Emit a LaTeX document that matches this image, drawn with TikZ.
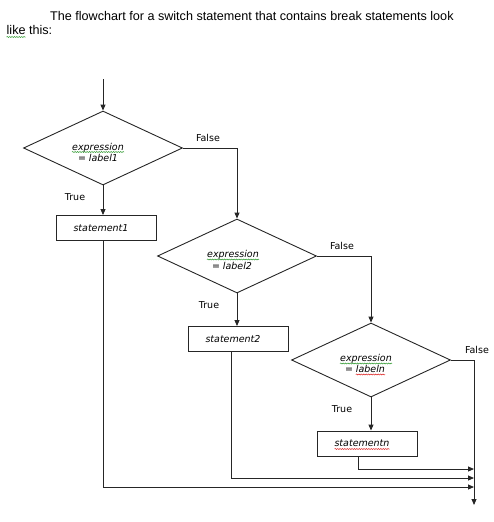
\documentclass[tikz,border=0pt]{standalone}
\usepackage{fontspec}
\setmainfont{Liberation Sans}
\newfontfamily\dejavu{DejaVu Sans}
\usetikzlibrary{shapes.geometric,arrows.meta,decorations.pathmorphing,calc}
\definecolor{spellgreen}{RGB}{40,150,40}
\definecolor{spellred}{RGB}{220,30,30}
\begin{document}
\begin{tikzpicture}[x=1pt,y=-1pt,
  flow/.style={draw=black!85, line width=0.9pt},
  arr/.style={flow, -{Triangle[length=6pt,width=5pt]}},
  dec/.style={draw=black!85, line width=0.9pt, diamond, inner sep=0pt,
    minimum width=159pt, minimum height=74pt, aspect=2.15},
  stbox/.style={draw=black!85, line width=0.9pt, rectangle, inner sep=0pt,
    minimum width=100pt, minimum height=25pt,
    font=\dejavu\itshape\fontsize{9.5}{11}\selectfont,
    execute at end node={\hspace*{10pt}}},
  lbl/.style={anchor=base, inner sep=0pt, font=\dejavu\fontsize{9.5}{11}\selectfont},
  etxt/.style={anchor=base, inner sep=0pt, font=\dejavu\itshape\fontsize{9.5}{11}\selectfont},
  ttl/.style={anchor=base west, inner sep=0pt, font=\fontsize{12.6}{14}\selectfont},
  wavy/.style={decorate, decoration={snake, amplitude=0.5pt, segment length=2.4pt}, line width=0.5pt},
]
\useasboundingbox (0,0) rectangle (494,522);

% title
\node[ttl] (t1) at (50,20) {The flowchart for a switch statement that contains break statements look};
\node[ttl] (t2) at (6.5,34.5) {like this:};
\draw[wavy, spellgreen] ($(t2.base west)+(0,2.5)$) -- ($(t2.base west)+(19,2.5)$);

% shapes
\coordinate (entry) at (103,79);
\node[dec] (d1) at (103,148) {};
\node[stbox] (b1) at (106,228) {statement1};
\node[dec] (d2) at (237,256) {};
\node[stbox] (b2) at (238,339) {statement2};
\node[dec] (d3) at (371,360) {};
\node[stbox] (b3) at (367,443.5) {statementn};
\coordinate (exit) at (474,505);
\coordinate (m3) at (474,469);
\coordinate (m2) at (474,478);
\coordinate (m1) at (474,487);

% diamond texts
\node[etxt] (e1a) at ($(d1)+(-5,2)$) {expression};
\node[etxt] (e1b) at ($(d1)+(-5,13)$) {= label1};
\node[etxt] (e2a) at ($(d2)+(-4,1.5)$) {expression};
\node[etxt] (e2b) at ($(d2)+(-5,13)$) {= label2};
\node[etxt] (e3a) at ($(d3)+(-5,1.5)$) {expression};
\node[etxt] (e3b) at ($(d3)+(-6,12.5)$) {= labeln};

% spell-check squiggles
\foreach \n in {e1a,e2a,e3a}
  \draw[wavy, spellgreen] ($(\n.base west)+(0,2)$) -- ($(\n.base east)+(0,2)$);
\draw[wavy, spellred] ($(e3b.base west)+(11,2)$) -- ($(e3b.base east)+(0,2)$);
\draw[wavy, spellred] ($(b3.center)+(-32.5,5.5)$) -- ($(b3.center)+(22.5,5.5)$);

% labels
\node[lbl] (f1) at ($(d1.east)+(25,-7)$) {False};
\node[lbl] (f2) at ($(d2.east)+(25,-7)$) {False};
\node[lbl] (f3) at ($(d3.east)+(26,-7)$) {False};
\node[lbl] (tr1) at ($(d1.south)+(-28,15)$) {True};
\node[lbl] (tr2) at ($(d2.south)+(-28,15)$) {True};
\node[lbl] (tr3) at ($(d3.south)+(-29,15)$) {True};

% connectors
\draw[arr] (entry) -- (d1.north);
\draw[arr] (d1.east) -| (d2.north);
\draw[arr] (d1.south) -- (b1.north -| d1.south);
\draw[arr] (d2.east) -| (d3.north);
\draw[arr] (d2.south) -- (b2.north -| d2.south);
\draw[arr] (d3.east) -| (exit);
\draw[arr] (d3.south) -- (b3.north -| d3.south);
\draw[arr] ([xshift=-9pt]b3.south) |- (m3);
\draw[arr] ([xshift=-7pt]b2.south) |- (m2);
\draw[arr] (b1.south -| d1.south) |- (m1);
\end{tikzpicture}
\end{document}
